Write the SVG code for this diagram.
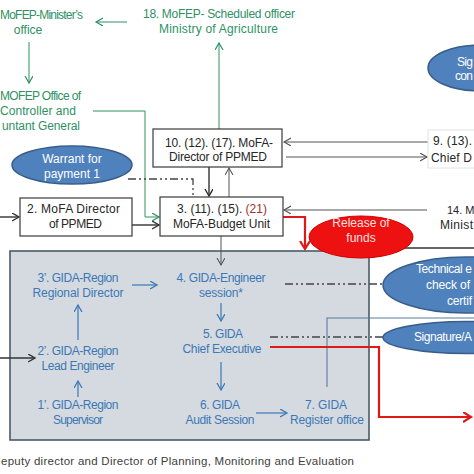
<svg xmlns="http://www.w3.org/2000/svg" width="474" height="474" viewBox="0 0 474 474">
<style>
text{font-family:"Liberation Sans",Arial,sans-serif;font-size:12px}
.g{fill:#2f9163}
.k{fill:#262626}
.b{fill:#3b78b5}
.w{fill:#ffffff}
.box{fill:#ffffff;stroke:#3a3a3a;stroke-width:1.2}
.ell{fill:#4f81bd;stroke:#385d8a;stroke-width:1.5}
.lg{fill:none;stroke:#2f9163;stroke-width:1}
.ld{fill:none;stroke:#333;stroke-width:1.4}
.lt{fill:none;stroke:#555;stroke-width:1}
.lb{fill:none;stroke:#3b78b5;stroke-width:1.2}
.lr{fill:none;stroke:#e01818;stroke-width:2.2}
.dd{fill:none;stroke:#444;stroke-width:1.3;stroke-dasharray:8 3 2 3 2 3}
</style>
<defs>
<marker id="ag" markerUnits="userSpaceOnUse" markerWidth="10" markerHeight="10" refX="7" refY="4" orient="auto"><path d="M0,0 L7,4 L0,8" fill="none" stroke="#2f9163" stroke-width="1.2"/></marker>
<marker id="ak" markerUnits="userSpaceOnUse" markerWidth="10" markerHeight="10" refX="7" refY="4" orient="auto"><path d="M0,0 L7,4 L0,8" fill="none" stroke="#333" stroke-width="1.4"/></marker>
<marker id="at" markerUnits="userSpaceOnUse" markerWidth="10" markerHeight="10" refX="7" refY="4" orient="auto"><path d="M0,0 L7,4 L0,8" fill="none" stroke="#555" stroke-width="1.1"/></marker>
<marker id="ab" markerUnits="userSpaceOnUse" markerWidth="10" markerHeight="10" refX="7" refY="4" orient="auto"><path d="M0,0 L7,4 L0,8" fill="none" stroke="#3b78b5" stroke-width="1.3"/></marker>
<marker id="ar" markerUnits="userSpaceOnUse" markerWidth="12" markerHeight="12" refX="8" refY="5" orient="auto"><path d="M0,0 L8,5 L0,10" fill="none" stroke="#e01818" stroke-width="2.2"/></marker>
</defs>
<rect width="474" height="474" fill="#ffffff"/>

<!-- GIDA frame -->
<rect id="gida-frame" x="10" y="251" width="359" height="189" fill="#d5dae0" stroke="#4a5a6a" stroke-width="1.6"/>

<g id="connectors">
<line class="lg" x1="127" y1="22" x2="96" y2="22" marker-end="url(#ag)"/>
<line class="lg" x1="29" y1="42" x2="29" y2="83" marker-end="url(#ag)"/>
<polyline class="lg" points="93,111 145,111 145,217 159,217" marker-end="url(#ag)"/>
<line class="lg" x1="219" y1="129" x2="219" y2="43" marker-end="url(#ag)"/>
<polyline class="dd" points="128,179 193,179 193,196"/>
<line class="ld" x1="0" y1="217" x2="19" y2="217" marker-end="url(#ak)"/>
<line class="ld" x1="132" y1="225" x2="159" y2="225" marker-end="url(#ak)"/>
<line class="ld" x1="209" y1="167" x2="209" y2="196" marker-end="url(#ak)"/>
<line class="lt" x1="229" y1="197" x2="229" y2="168" marker-end="url(#at)"/>
<line class="lt" x1="430" y1="142" x2="284" y2="142" marker-end="url(#at)"/>
<line class="lt" x1="286" y1="157" x2="427" y2="157" marker-end="url(#at)"/>
<line class="lt" x1="427" y1="210" x2="284" y2="210" marker-end="url(#at)"/>
<line class="ld" x1="369" y1="248" x2="474" y2="248" stroke-width="1.2"/>
<line class="lt" x1="221" y1="236" x2="221" y2="265" marker-end="url(#at)"/>
<polyline class="lr" points="283,217 305,217 305,249" marker-end="url(#ar)"/>
<line class="lb" x1="132" y1="285" x2="157" y2="285" marker-end="url(#ab)"/>
<line class="lb" x1="221" y1="303" x2="221" y2="321" marker-end="url(#ab)"/>
<line class="lb" x1="221" y1="362" x2="221" y2="390" stroke-width="1.6" marker-end="url(#ab)"/>
<line class="lb" x1="256" y1="413" x2="287" y2="413" marker-end="url(#ab)"/>
<line class="lb" x1="78" y1="397" x2="78" y2="381" marker-end="url(#ab)"/>
<line class="lb" x1="78" y1="340" x2="78" y2="305" marker-end="url(#ab)"/>
<line class="ld" x1="0" y1="358" x2="35" y2="358" marker-end="url(#ak)"/>
<line class="dd" x1="285" y1="284" x2="383" y2="284"/>
<line class="dd" x1="270" y1="337" x2="383" y2="337"/>
<polyline fill="none" stroke="#5b7ba0" stroke-width="1.1" points="327,387 327,318 474,318"/>
<polyline class="lr" points="270,347 379,347 379,417 471,417" marker-end="url(#ar)"/>
</g>

<g id="minister-office">
<text class="g" x="0" y="19" textLength="83">MoFEP-Minister’s</text>
<text class="g" x="28" y="34" text-anchor="middle">office</text>
</g>
<g id="scheduled-officer">
<text class="g" x="143" y="18" textLength="152">18. MoFEP- Scheduled officer</text>
<text class="g" x="159" y="33" textLength="119">Ministry of Agriculture</text>
</g>
<g id="controller-office">
<text class="g" x="0" y="100" textLength="81">MOFEP Office of</text>
<text class="g" x="0" y="115" textLength="76">Controller and</text>
<text class="g" x="2" y="130" textLength="78">untant General</text>
</g>
<g id="warrant">
<ellipse class="ell" cx="72" cy="165" rx="60" ry="19"/>
<text class="w" x="72" y="163" text-anchor="middle">Warrant for</text>
<text class="w" x="72" y="178" text-anchor="middle">payment 1</text>
</g>
<g id="node10">
<rect class="box" x="153" y="129" width="129" height="38"/>
<text class="k" x="165" y="147" textLength="108">10. (12). (17). MoFA-</text>
<text class="k" x="169" y="161" textLength="98">Director of PPMED</text>
</g>
<g id="node3">
<rect class="box" x="160" y="197" width="123" height="39"/>
<text class="k" x="177" y="213" textLength="90">3. (11). (15). <tspan fill="#a0302c">(21)</tspan></text>
<text class="k" x="173" y="228" textLength="97">MoFA-Budget Unit</text>
</g>
<g id="node2">
<rect class="box" x="20" y="198" width="112" height="38"/>
<text class="k" x="27" y="213" textLength="93">2. MoFA Director</text>
<text class="k" x="49" y="228" textLength="53">of PPMED</text>
</g>
<g id="node9">
<rect x="428" y="130" width="60" height="38" fill="#ffffff" stroke="#e2e2e2" stroke-width="1"/>
<text class="k" x="433" y="145" textLength="39">9. (13).</text>
<text class="k" x="431" y="162" textLength="41">Chief D</text>
</g>
<g id="node14">
<text class="k" x="447" y="214" style="font-size:11px">14. M</text>
<text class="k" x="440" y="229" textLength="33">Minist</text>
</g>
<g id="signature-top">
<ellipse class="ell" cx="480" cy="68" rx="52" ry="23"/>
<text class="w" x="457" y="66" textLength="16">Sig</text>
<text class="w" x="455" y="80" textLength="18">con</text>
</g>
<g id="release">
<ellipse cx="361" cy="237" rx="52" ry="21" fill="#ee1111" stroke="#d00000" stroke-width="1"/>
<text fill="#f8e0e0" x="361" y="227" text-anchor="middle">Release of</text>
<text fill="#f8e0e0" x="361" y="242" text-anchor="middle">funds</text>
</g>
<g id="technical">
<ellipse class="ell" cx="466" cy="285" rx="83" ry="28"/>
<text class="w" x="416" y="273" textLength="56">Technical e</text>
<text class="w" x="426" y="289" textLength="44">check of</text>
<text class="w" x="447" y="305" textLength="25">certif</text>
</g>
<g id="signature">
<ellipse class="ell" cx="466" cy="337.5" rx="83" ry="16"/>
<text class="w" x="414" y="341" textLength="58">Signature/A</text>
</g>
<g id="gida3">
<text class="b" x="78" y="282" text-anchor="middle" textLength="81">3’. GIDA-Region</text>
<text class="b" x="78" y="297" text-anchor="middle" textLength="91">Regional Director</text>
</g>
<g id="gida2">
<text class="b" x="78" y="355" text-anchor="middle" textLength="81">2’. GIDA-Region</text>
<text class="b" x="78" y="370" text-anchor="middle" textLength="73">Lead Engineer</text>
</g>
<g id="gida1">
<text class="b" x="78" y="409" text-anchor="middle" textLength="81">1’. GIDA-Region</text>
<text class="b" x="78" y="424" text-anchor="middle" textLength="50">Supervisor</text>
</g>
<g id="gida4">
<text class="b" x="221" y="282" text-anchor="middle" textLength="89">4. GIDA-Engineer</text>
<text class="b" x="221" y="297" text-anchor="middle" textLength="44">session*</text>
</g>
<g id="gida5">
<text class="b" x="223" y="338" text-anchor="middle" textLength="40">5. GIDA</text>
<text class="b" x="222" y="353" text-anchor="middle" textLength="79">Chief Executive</text>
</g>
<g id="gida6">
<text class="b" x="220" y="409" text-anchor="middle" textLength="40">6. GIDA</text>
<text class="b" x="220" y="424" text-anchor="middle" textLength="69">Audit Session</text>
</g>
<g id="gida7">
<text class="b" x="326" y="409" text-anchor="middle" textLength="42">7. GIDA</text>
<text class="b" x="327" y="424" text-anchor="middle" textLength="74">Register office</text>
</g>
<text fill="#404040" x="1" y="465" textLength="353" style="font-size:11.5px">eputy director and Director of Planning, Monitoring and Evaluation</text>
</svg>
